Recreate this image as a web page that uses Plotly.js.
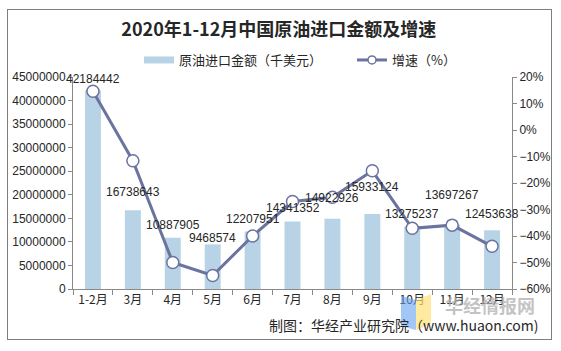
<!DOCTYPE html>
<html>
<head>
<meta charset="utf-8">
<script src="https://cdn.plot.ly/plotly-3.0.1.min.js"></script>
<style>
html,body{margin:0;padding:0;background:#fff;}
#wrap{position:relative;width:561px;height:351px;}
#chart{width:561px;height:351px;}
#frame{position:absolute;left:7px;top:9px;width:543px;height:329px;border:1.5px solid #7f7f7f;pointer-events:none;box-sizing:content-box;}
</style>
</head>
<body>
<div id="wrap"><div id="chart"></div><div id="frame"></div></div>
<script>
// ---- data ----
const months = ['1-2月','3月','4月','5月','6月','7月','8月','9月','10月','11月','12月'];
const importValue = [42184442,16738643,10887905,9468574,12207951,14341352,14922926,15933124,13275237,13697267,12453638];
const growthPct = [14.6,-11.6,-50.0,-54.9,-40.0,-27.0,-25.4,-15.4,-37.1,-35.9,-43.9];
const titleText = '2020年1-12月中国原油进口金额及增速';
const barName = '原油进口金额（千美元）';
const lineName = '增速（%）';
const sourceText = '制图：华经产业研究院（www.huaon.com)';
const watermarkText = '华经情报网';

// ---- styling (label nudges in px) ----
const labelShift = [11,18,13,6.5,12.5,13,21,27,12,29.5,16];

const W = 561, H = 351, L = 73, R = 49, T = 77, B = 62;
const pw = W - L - R, ph = H - T - B;
const px = v => (v - L) / pw;
const py = v => (H - B - v) / ph;

const font = 'Liberation Sans, Arial, sans-serif';
const cjk = '"Noto Sans CJK SC", "Liberation Sans", sans-serif';
const barColor = '#b8d3e6';
const lineColor = '#6b739f';

const barTrace = {
  type: 'bar', x: months, y: importValue, name: barName, showlegend: false,
  marker: {color: barColor}, width: 0.4, yaxis: 'y'
};
// legend-only entries, drawn like the reference's legend keys
const barLegend = {
  type: 'scatter', mode: 'lines', x: [null], y: [null], name: barName, yaxis: 'y',
  line: {color: barColor, width: 7}, legend: 'legend'
};
const lineLegend = {
  type: 'scatter', mode: 'lines+markers', x: [null], y: [null], name: lineName, yaxis: 'y2',
  line: {color: lineColor, width: 3},
  marker: {size: 8, color: '#ffffff', line: {color: lineColor, width: 1.5}}, legend: 'legend2'
};
const lineTrace = {
  type: 'scatter', mode: 'lines+markers', x: months, y: growthPct, name: lineName, showlegend: false,
  yaxis: 'y2',
  line: {color: lineColor, width: 3},
  marker: {size: 12, color: '#ffffff', line: {color: lineColor, width: 1.5}}
};

const annotations = importValue.map((v, i) => ({
  x: months[i], y: v, xref: 'x', yref: 'y', text: String(v), showarrow: false,
  yshift: labelShift[i], yanchor: 'middle', xanchor: 'center',
  font: {family: font, size: 12, color: '#262626'}
}));
annotations.push({
  xref: 'paper', yref: 'paper', x: px(541), y: py(325), xanchor: 'right', yanchor: 'middle',
  text: sourceText, showarrow: false, font: {family: cjk, size: 14, color: '#262626'}
});
annotations.push({
  xref: 'paper', yref: 'paper', x: px(490), y: py(305), xanchor: 'center', yanchor: 'middle',
  text: '<b>' + watermarkText + '</b>', showarrow: false,
  font: {family: cjk, size: 18, color: 'rgba(175,175,175,0.75)'}
});

const shapes = [
  {type: 'path', xref: 'paper', yref: 'paper', fillcolor: 'rgba(100,160,240,0.6)', line: {width: 0},
   path: `M ${px(401)} ${py(296)} L ${px(416)} ${py(300)} L ${px(416)} ${py(330)} L ${px(401)} ${py(326)} Z`},
  {type: 'path', xref: 'paper', yref: 'paper', fillcolor: 'rgba(255,225,120,0.7)', line: {width: 0},
   path: `M ${px(416)} ${py(300)} L ${px(431)} ${py(294)} L ${px(431)} ${py(324)} L ${px(416)} ${py(330)} Z`}
];

const legendBase = {
  orientation: 'h', xanchor: 'left', y: py(60), yanchor: 'middle',
  font: {family: cjk, size: 13, color: '#262626'}, itemwidth: 30, bgcolor: 'rgba(0,0,0,0)'
};

const layout = {
  width: W, height: H,
  margin: {l: L, r: R, t: T, b: B, pad: 0},
  paper_bgcolor: '#ffffff', plot_bgcolor: '#ffffff',
  title: {text: '<b>' + titleText + '</b>', x: 0.497, xanchor: 'center', y: 1 - 30 / H, yanchor: 'middle',
          font: {family: cjk, size: 18, color: '#262626'}},
  showlegend: true,
  legend: Object.assign({}, legendBase, {x: px(139)}),
  legend2: Object.assign({}, legendBase, {x: px(352)}),
  bargap: 0.6,
  xaxis: {type: 'category', range: [-0.5, months.length - 0.5], autorange: false,
          showgrid: false, showline: true, linecolor: '#898989', linewidth: 1,
          ticks: 'outside', tickson: 'boundaries', ticklen: 5, tickcolor: '#898989', tickangle: 0,
          tickfont: {family: cjk, size: 12, color: '#262626'}, fixedrange: true},
  yaxis: {range: [0, 45000000], dtick: 5000000, showgrid: false, zeroline: false,
          showline: true, linecolor: '#898989', linewidth: 1, ticks: 'outside', ticklen: 4, tickcolor: '#898989',
          tickformat: 'd', tickfont: {family: font, size: 12, color: '#262626'}},
  yaxis2: {overlaying: 'y', side: 'right', range: [-60, 20], dtick: 10, ticksuffix: '%',
           showgrid: false, zeroline: false, showline: true, linecolor: '#898989', linewidth: 1,
           ticks: 'outside', ticklen: 4, tickcolor: '#898989',
           tickfont: {family: font, size: 12, color: '#262626'}},
  annotations: annotations,
  shapes: shapes
};

Plotly.newPlot('chart', [barTrace, lineTrace, barLegend, lineLegend], layout, {displayModeBar: false, staticPlot: true});
</script>
</body>
</html>
